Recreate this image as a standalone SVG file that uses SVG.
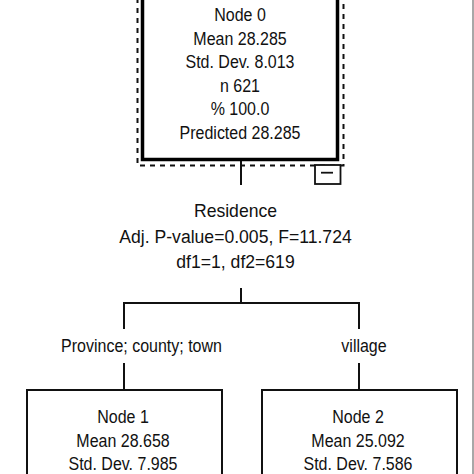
<svg xmlns="http://www.w3.org/2000/svg" width="474" height="474" viewBox="0 0 474 474">
<style>
  text { font-family: "Liberation Sans", Arial, sans-serif; fill: #111; text-anchor: middle; font-size: 16px; }
  .split { font-size: 17.6px; }
  .thick { fill: none; stroke: #000; stroke-width: 3.5; }
  .dash { fill: none; stroke: #111; stroke-width: 2; stroke-dasharray: 5 5; }
  .box { fill: #fff; stroke: #111; stroke-width: 2; }
  .conn { fill: none; stroke: #111; stroke-width: 2; }
</style>
<rect x="0" y="0" width="474" height="474" fill="#fff"/>
<rect x="472" y="0" width="2" height="474" fill="#a8a8a8"/>

<g id="connectors">
  <line class="conn" x1="241" y1="160" x2="241" y2="185"/>
  <line class="conn" x1="241" y1="288" x2="241" y2="303"/>
  <line class="conn" x1="124" y1="303" x2="359" y2="303"/>
  <line class="conn" x1="124" y1="302" x2="124" y2="329"/>
  <line class="conn" x1="359" y1="302" x2="359" y2="329"/>
  <line class="conn" x1="124" y1="363" x2="124" y2="390"/>
  <line class="conn" x1="359" y1="363" x2="359" y2="390"/>
</g>

<g id="node0">
  <path class="dash" d="M137.5,-2 V165.5 H343.5 V-2"/>
  <rect class="thick" x="142.5" y="-10" width="195" height="169.5"/>
  <rect x="315" y="165" width="25.5" height="19" fill="#fff" stroke="#111" stroke-width="1.8"/>
  <line x1="321" y1="172.7" x2="333" y2="172.7" stroke="#111" stroke-width="1.8"/>
  <text transform="translate(240,21) scale(1,1.16)">Node 0</text>
  <text transform="translate(240,44.5) scale(1,1.16)">Mean 28.285</text>
  <text transform="translate(240,68) scale(1,1.16)">Std. Dev. 8.013</text>
  <text transform="translate(240,91.5) scale(1,1.16)">n 621</text>
  <text transform="translate(240,115) scale(1,1.16)">% 100.0</text>
  <text transform="translate(240,138.5) scale(1,1.16)">Predicted 28.285</text>
</g>

<g id="split">
  <text class="split" transform="translate(235.5,216.5) scale(1,1.06)">Residence</text>
  <text class="split" transform="translate(235.5,242.5) scale(1,1.06)">Adj. P-value=0.005, F=11.724</text>
  <text class="split" transform="translate(235.5,268) scale(1,1.06)">df1=1, df2=619</text>
</g>

<g id="labels">
  <text transform="translate(141.5,351.5) scale(1,1.16)">Province; county; town</text>
  <text transform="translate(364,351.5) scale(1,1.16)">village</text>
</g>

<g id="node1">
  <rect class="box" x="27" y="390" width="195" height="100"/>
  <text transform="translate(123,423.3) scale(1,1.16)">Node 1</text>
  <text transform="translate(123,446.7) scale(1,1.16)">Mean 28.658</text>
  <text transform="translate(123,470) scale(1,1.16)">Std. Dev. 7.985</text>
</g>

<g id="node2">
  <rect class="box" x="262" y="390" width="195" height="100"/>
  <text transform="translate(358,423.3) scale(1,1.16)">Node 2</text>
  <text transform="translate(358,446.7) scale(1,1.16)">Mean 25.092</text>
  <text transform="translate(358,470) scale(1,1.16)">Std. Dev. 7.586</text>
</g>
</svg>
